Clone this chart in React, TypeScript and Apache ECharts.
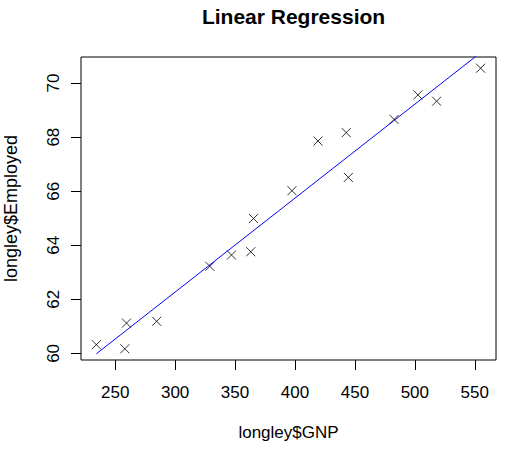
import { useEffect, useRef } from 'react';
import * as echarts from 'echarts';

// longley data: GNP vs Employed
const gnp = [234.289, 259.426, 258.054, 284.599, 328.975, 346.999, 365.385, 363.112, 397.469, 419.18, 442.769, 444.546, 482.704, 502.601, 518.173, 554.894];
const employed = [60.323, 61.122, 60.171, 61.187, 63.221, 63.639, 64.989, 63.761, 66.019, 67.857, 68.169, 66.513, 68.655, 69.564, 69.331, 70.551];

// fitted values at the smallest and largest GNP (the top end is clipped by the box)
const fitLine = [
  [234.289, 59.986],
  [554.894, 71.128],
];

const xTicks = [250, 300, 350, 400, 450, 500, 550];
const yTicks = [60, 62, 64, 66, 68, 70];

const FONT = "'Liberation Sans', Arial, sans-serif";

export default function App() {
  const ref = useRef<HTMLDivElement>(null);

  useEffect(() => {
    if (!ref.current) {
      return undefined;
    }
    const chart = echarts.init(ref.current, null, { renderer: 'svg' });
    const option: echarts.EChartsOption = {
      animation: false,
      backgroundColor: '#fff',
      textStyle: { fontFamily: FONT },
      title: {
        text: 'Linear Regression',
        left: 288.5,
        top: 1,
        textAlign: 'center',
        textStyle: { fontFamily: FONT, fontSize: 21, fontWeight: 'bold', color: '#000' },
      },
      grid: {
        left: 81,
        top: 57,
        right: 13,
        bottom: 93,
        outerBoundsMode: 'none',
        containLabel: false,
        show: true,
        borderColor: '#000',
        borderWidth: 1,
        backgroundColor: 'transparent',
      } as any,
      xAxis: {
        type: 'value',
        min: 221.47,
        max: 567.72,
        name: 'longley$GNP',
        nameLocation: 'middle',
        nameGap: 64,
        nameTextStyle: { fontFamily: FONT, fontSize: 17, color: '#000' },
        axisLine: { show: false },
        splitLine: { show: false },
        axisTick: { show: true, length: 10, inside: false, customValues: xTicks, lineStyle: { color: '#000' } },
        axisLabel: { customValues: xTicks, margin: 24, fontFamily: FONT, fontSize: 17, color: '#000' },
      },
      yAxis: {
        type: 'value',
        min: 59.756,
        max: 70.966,
        name: 'longley$Employed',
        nameLocation: 'middle',
        nameGap: 61,
        nameTextStyle: { fontFamily: FONT, fontSize: 18, color: '#000' },
        axisLine: { show: false },
        splitLine: { show: false },
        axisTick: { show: true, length: 10, inside: false, customValues: yTicks, lineStyle: { color: '#000' } },
        axisLabel: { customValues: yTicks, rotate: 90, margin: 19, fontFamily: FONT, fontSize: 17, color: '#000' },
      },
      series: [
        {
          type: 'scatter',
          data: gnp.map((x, i) => [x, employed[i]]),
          symbol: 'path://M0,0L10,10M10,0L0,10',
          symbolSize: 9,
          itemStyle: { color: 'transparent', borderColor: '#000', borderWidth: 1 },
          z: 3,
        },
        {
          type: 'line',
          data: fitLine,
          showSymbol: false,
          symbol: 'none',
          clip: true,
          lineStyle: { color: '#0000ff', width: 1 },
          z: 2,
        },
      ],
    };
    chart.setOption(option);
    return () => {
      chart.dispose();
    };
  }, []);

  return <div ref={ref} style={{ position: 'fixed', left: 0, top: 0, width: 509, height: 453 }} />;
}
